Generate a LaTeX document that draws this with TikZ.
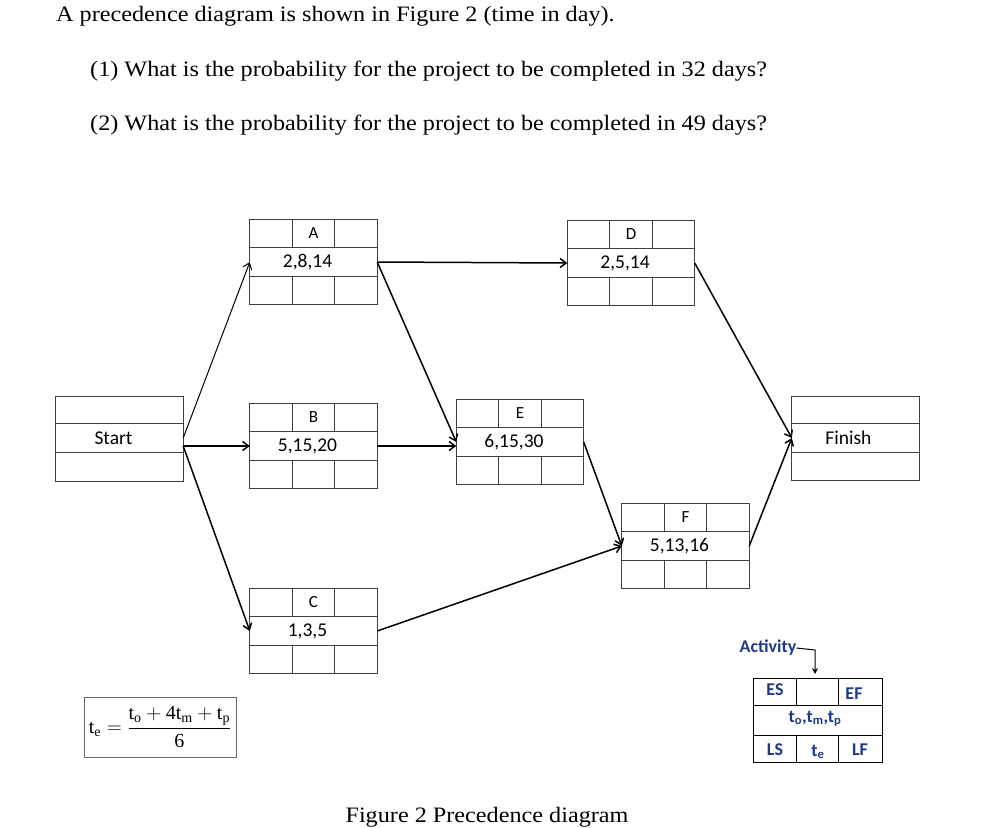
\documentclass[tikz,border=0pt]{standalone}
\usepackage{amsmath}
\usepackage{fontspec}
\setmainfont{Liberation Serif}
\newfontfamily\calibri{Carlito}
\usetikzlibrary{arrows.meta,calc}
\definecolor{actblue}{RGB}{31,56,140}

\begin{document}
\begin{tikzpicture}[x=1pt,y=-1pt,
	mid/.style={minimum width=127pt,minimum height=28pt,inner sep=0pt,font=\calibri\fontsize{19.5}{21}\selectfont},
	grid/.style={draw=black!75,line width=1pt},
	arr/.style={line width=1.5pt,-{Straight Barb[length=6pt,width=9pt]}},
	legtext/.style={inner sep=0pt,text=actblue,font=\calibri\bfseries\fontsize{18}{20}\selectfont},
	serif/.style={inner sep=0pt,font=\fontsize{22}{24}\selectfont}]

	\useasboundingbox (0,0) rectangle (995,827);

	\node [serif,anchor=base west] (intro) at (56,21) {\scalebox{1.1}[1]{A precedence diagram is shown in Figure 2 (time in day).}};
	\node [serif,anchor=base west] (q1) at (90,76) {\scalebox{1.1}[1]{(1) What is the probability for the project to be completed in 32 days?}};
	\node [serif,anchor=base west] (q2) at (90,130) {\scalebox{1.1}[1]{(2) What is the probability for the project to be completed in 49 days?}};

	% activity boxes
	\foreach \n/\x/\y/\t in {A/313.5/262/{2,8,14}, B/313.5/446/{5,15,20}, C/313.5/631/{1,3,5}, D/631/263/{2,5,14}, E/520/442/{6,15,30}, F/685.5/546/{5,13,16}}{
		\node [mid] (\n) at (\x,\y) {\t\hspace*{12pt}};
		\draw [grid] ($(\n.west)+(0,-43)$) rectangle ($(\n.east)+(0,42)$);
		\draw [grid] (\n.north west) -- (\n.north east);
		\draw [grid] (\n.south west) -- (\n.south east);
		\draw [grid] ($(\n.north)+(-21.2,0)$) -- ++(0,-29);
		\draw [grid] ($(\n.north)+(21.2,0)$) -- ++(0,-29);
		\draw [grid] ($(\n.south)+(-21.2,0)$) -- ++(0,28);
		\draw [grid] ($(\n.south)+(21.2,0)$) -- ++(0,28);
		\node [inner sep=0pt,font=\calibri\fontsize{17}{18}\selectfont] (\n-l) at ($(\n.north)+(0,-14.5)$) {\n};
	}

	\node [mid] (Start) at (119.5,438) {Start\hspace*{12pt}};
	\draw [grid] ($(Start.west)+(0,-42)$) rectangle ($(Start.east)+(0,43)$);
	\draw [grid] (Start.north west) -- (Start.north east);
	\draw [grid] (Start.south west) -- (Start.south east);

	\node [mid] (Finish) at (855.5,438) {Finish\hspace*{14pt}};
	\draw [grid] ($(Finish.west)+(0,-42)$) rectangle ($(Finish.east)+(0,42)$);
	\draw [grid] (Finish.north west) -- (Finish.north east);
	\draw [grid] (Finish.south west) -- (Finish.south east);

	\draw [arr,line width=1pt] (Start.east) -- (A.west);
	\draw [arr] (Start.east |- B.west) -- (B.west);
	\draw [arr] (Start.east |- B.west) -- (C.west);
	\draw [arr] (A.east) -- (D.west);
	\draw [arr] (A.east) -- (E.west);
	\draw [arr] (B.east) -- (B.east -| E.west);
	\draw [arr] (D.east) -- (Finish.west);
	\draw [arr] (E.east) -- (F.west);
	\draw [arr] (C.east) -- (F.west);
	\draw [arr] (F.east) -- (Finish.west);

	% legend
	\node [legtext] (act) at (768,648) {Activity};
	\coordinate (bend) at (815,650);
	\coordinate (acttip) at (815,674);
	\draw [line width=1pt,-{Stealth[length=6pt,width=6pt]}] (act.east) -- (bend) -- (acttip);

	\node [minimum width=128pt,minimum height=29pt,inner sep=0pt] (leg) at (818,720.5) {};
	\draw [line width=0.9pt] ($(leg.west)+(0,-42.5)$) rectangle ($(leg.east)+(0,41.5)$);
	\draw [line width=0.9pt] (leg.north west) -- (leg.north east);
	\draw [line width=0.9pt] (leg.south west) -- (leg.south east);
	\draw [line width=0.9pt] ($(leg.north west)+(43,0)$) -- ++(0,-28);
	\draw [line width=0.9pt] ($(leg.north west)+(85,0)$) -- ++(0,-28);
	\draw [line width=0.9pt] ($(leg.south west)+(43,0)$) -- ++(0,27);
	\draw [line width=0.9pt] ($(leg.south west)+(85,0)$) -- ++(0,27);
	\node [legtext] (es) at (775,690) {ES};
	\node [legtext] (ef) at (854,694) {EF};
	\node [legtext] (tri) at (815,719) {t\textsubscript{o},t\textsubscript{m},t\textsubscript{p}};
	\node [legtext] (ls) at (775,750) {LS};
	\node [legtext] (te) at (818,752) {t\textsubscript{e}};
	\node [legtext] (lf) at (860,750) {LF};

	% formula
	\node [draw=black!60,line width=0.8pt,minimum width=152pt,minimum height=60pt,inner sep=0pt,font=\fontsize{20}{22}\selectfont] (form) at (160,727)
		{$\displaystyle\text{t}_{\text{e}}=\frac{\text{t}_{\text{o}}+\text{4t}_{\text{m}}+\text{t}_{\text{p}}}{\text{6}}$};

	\node [serif,anchor=base] (cap) at (487,822) {\scalebox{1.1}[1]{Figure 2 Precedence diagram}};
\end{tikzpicture}
\end{document}
